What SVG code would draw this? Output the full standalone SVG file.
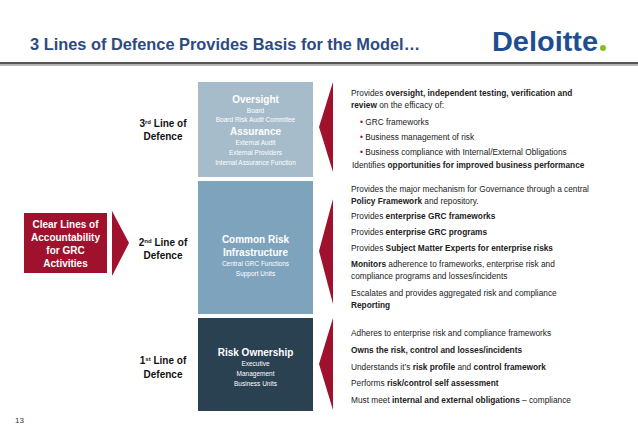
<svg xmlns="http://www.w3.org/2000/svg" width="638" height="442" viewBox="0 0 638 442">
<style>
text{font-family:"Liberation Sans",Arial,sans-serif}
.t{font-size:8.3px;fill:#222}
.b{font-weight:bold}
.lbl{font-size:10px;font-weight:bold;fill:#111;text-anchor:middle}
.w{fill:#fff;text-anchor:middle}
.tri{fill:#a0112e}
</style>
<rect width="638" height="442" fill="#fff"/>
<g id="header">
<text x="30" y="50" font-size="17" font-weight="bold" fill="#2d4a80" textLength="390" lengthAdjust="spacingAndGlyphs">3 Lines of Defence Provides Basis for the Model…</text>
<text x="492" y="51" font-size="27" font-weight="bold" fill="#1d4e8f" textLength="106" lengthAdjust="spacingAndGlyphs">Deloitte</text>
<circle cx="603" cy="48" r="3" fill="#86bc25"/>
<rect x="0" y="62" width="638" height="2.5" fill="#555"/>
<rect x="0" y="64.5" width="638" height="1.5" fill="#bbb"/>
</g>
<g id="clear-lines">
<rect x="24" y="213" width="83" height="60" fill="#a0112e"/>
<text class="w b" font-size="10"><tspan x="65.5" y="228">Clear Lines of</tspan><tspan x="65.5" y="241">Accountability</tspan><tspan x="65.5" y="254">for GRC</tspan><tspan x="65.5" y="267">Activities</tspan></text>
<polygon class="tri" points="112,211 129,243 112,276"/>
</g>
<g id="labels">
<text class="lbl"><tspan x="163" y="127">3<tspan font-size="6" dy="-3">rd</tspan><tspan dy="3"> Line of</tspan></tspan><tspan x="163" y="140">Defence</tspan></text>
<text class="lbl"><tspan x="163" y="246">2<tspan font-size="6" dy="-3">nd</tspan><tspan dy="3"> Line of</tspan></tspan><tspan x="163" y="259">Defence</tspan></text>
<text class="lbl"><tspan x="163" y="364">1<tspan font-size="6" dy="-3">st</tspan><tspan dy="3"> Line of</tspan></tspan><tspan x="163" y="378">Defence</tspan></text>
</g>
<g id="oversight">
<rect x="198" y="82" width="115" height="95" fill="#a6bccb"/>
<text class="w"><tspan x="255.5" y="103" font-size="10" font-weight="bold">Oversight</tspan><tspan x="255.5" y="113" font-size="6.5">Board</tspan><tspan x="255.5" y="122" font-size="6.5">Board Risk Audit Commitee</tspan><tspan x="255.5" y="135" font-size="10" font-weight="bold">Assurance</tspan><tspan x="255.5" y="145" font-size="6.5">External Audit</tspan><tspan x="255.5" y="155" font-size="6.5">External Providers</tspan><tspan x="255.5" y="165" font-size="6.5">Internal Assurance Function</tspan></text>
</g>
<g id="common-risk">
<rect x="198" y="181" width="115" height="133" fill="#7ea3bd"/>
<text class="w"><tspan x="255.5" y="243" font-size="10" font-weight="bold">Common Risk</tspan><tspan x="255.5" y="256" font-size="10" font-weight="bold">Infrastructure</tspan><tspan x="255.5" y="266" font-size="6.5">Central GRC Functions</tspan><tspan x="255.5" y="276" font-size="6.5">Support Units</tspan></text>
</g>
<g id="risk-ownership">
<rect x="198" y="318" width="115" height="93" fill="#2a4152"/>
<text class="w"><tspan x="255.5" y="356" font-size="10" font-weight="bold">Risk Ownership</tspan><tspan x="255.5" y="366" font-size="6.5">Executive</tspan><tspan x="255.5" y="376" font-size="6.5">Management</tspan><tspan x="255.5" y="386" font-size="6.5">Business Units</tspan></text>
</g>
<g id="connectors">
<polygon class="tri" points="333,82 319,127 333,172"/>
<polygon class="tri" points="333,199 319,251 333,304"/>
<polygon class="tri" points="333,318 319,364 333,410"/>
</g>
<g id="desc3">
<text class="t"><tspan x="351" y="96">Provides <tspan class="b">oversight, independent testing, verification and</tspan></tspan><tspan x="351" y="108"><tspan class="b">review</tspan> on the efficacy of:</tspan></text>
<text class="t"><tspan x="360" y="125"><tspan fill="#a0112e">•</tspan> GRC frameworks</tspan><tspan x="360" y="140"><tspan fill="#a0112e">•</tspan> Business management of risk</tspan><tspan x="360" y="155"><tspan fill="#a0112e">•</tspan> Business compliance with Internal/External Obligations</tspan></text>
<text class="t" x="352" y="168">Identifies <tspan class="b">opportunities for improved business performance</tspan></text>
</g>
<g id="desc2">
<text class="t"><tspan x="351" y="192">Provides the major mechanism for Governance through a central</tspan><tspan x="351" y="204"><tspan class="b">Policy Framework</tspan> and repository.</tspan></text>
<text class="t" x="351" y="219">Provides <tspan class="b">enterprise GRC frameworks</tspan></text>
<text class="t" x="351" y="235">Provides <tspan class="b">enterprise GRC programs</tspan></text>
<text class="t" x="351" y="251">Provides <tspan class="b">Subject Matter Experts for enterprise risks</tspan></text>
<text class="t"><tspan x="351" y="267"><tspan class="b">Monitors</tspan> adherence to frameworks, enterprise risk and</tspan><tspan x="351" y="279">compliance programs and losses/incidents</tspan></text>
<text class="t"><tspan x="351" y="296">Escalates and provides aggregated risk and compliance</tspan><tspan x="351" y="308" class="b">Reporting</tspan></text>
</g>
<g id="desc1">
<text class="t" x="351" y="336">Adheres to enterprise risk and compliance frameworks</text>
<text class="t b" x="351" y="353">Owns the risk, control and losses/incidents</text>
<text class="t" x="351" y="370">Understands it’s <tspan class="b">risk profile</tspan> and <tspan class="b">control framework</tspan></text>
<text class="t" x="351" y="386">Performs <tspan class="b">risk/control self assessment</tspan></text>
<text class="t" x="351" y="403">Must meet <tspan class="b">internal and external obligations</tspan> – compliance</text>
</g>
<text x="15" y="423" font-size="8" fill="#333">13</text>
</svg>
